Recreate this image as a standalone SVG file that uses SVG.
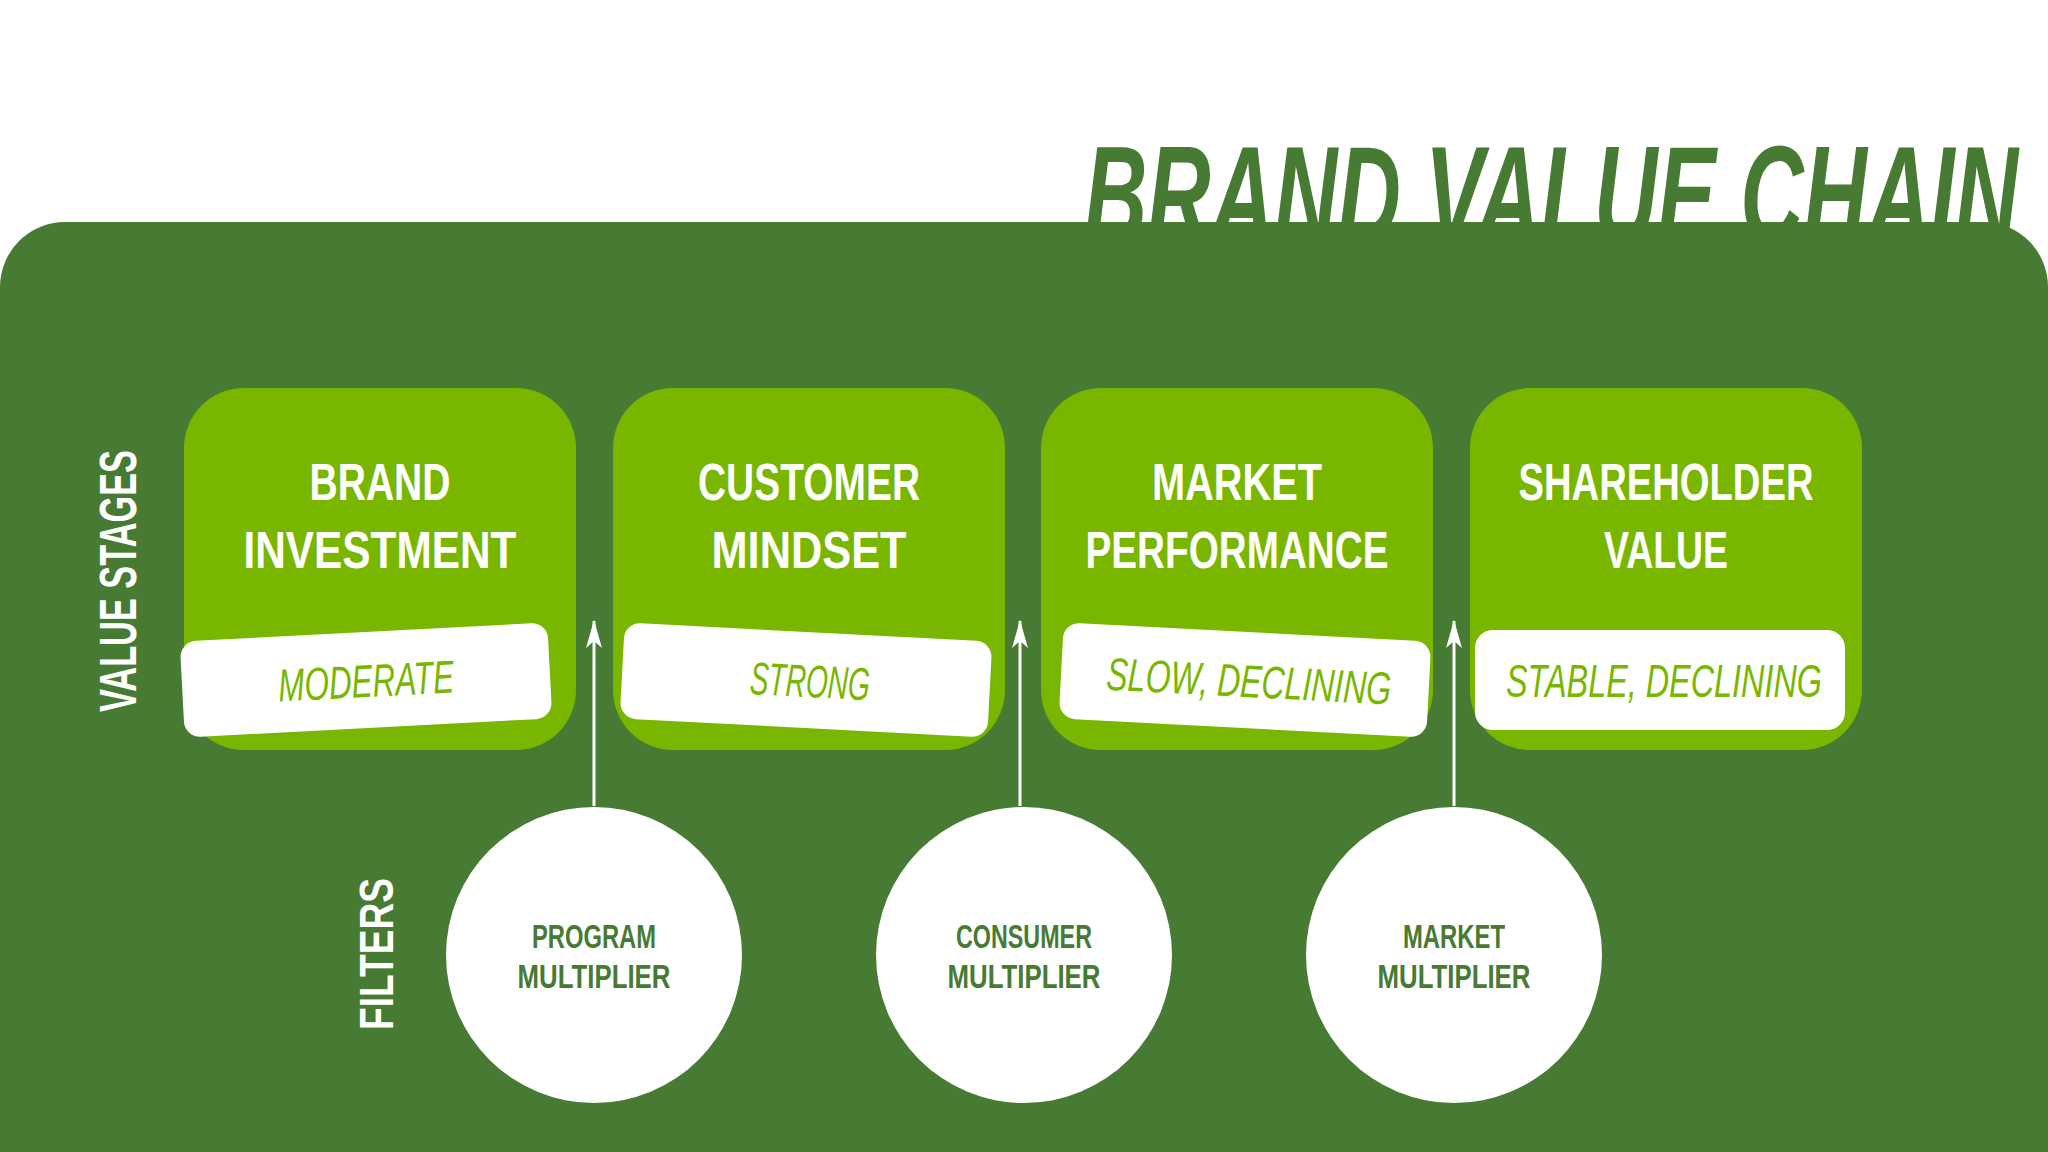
<svg xmlns="http://www.w3.org/2000/svg" width="2048" height="1152" viewBox="0 0 2048 1152">
  <defs>
    <style>
      .title { font-family: "Liberation Sans Narrow", "Liberation Sans", "DejaVu Sans Condensed", sans-serif; font-weight: bold; font-style: italic; fill: #477a33; }
      .stage { fill: #79b600; }
      .head { font-family: "Liberation Sans Narrow", "Liberation Sans", "DejaVu Sans Condensed", sans-serif; font-weight: bold; fill: #ffffff; font-size: 52px; text-anchor: middle; }
      .tag { fill: #ffffff; }
      .tagtext { font-family: "Liberation Sans Narrow", "Liberation Sans", "DejaVu Sans Condensed", sans-serif; font-style: italic; fill: #79b600; font-size: 46px; text-anchor: middle; }
      .filter { fill: #ffffff; }
      .ftext { font-family: "Liberation Sans Narrow", "Liberation Sans", "DejaVu Sans Condensed", sans-serif; font-weight: bold; fill: #477a33; font-size: 33px; text-anchor: middle; }
      .side { font-family: "Liberation Sans Narrow", "Liberation Sans", "DejaVu Sans Condensed", sans-serif; font-weight: bold; fill: #ffffff; text-anchor: middle; }
      .conn { stroke: #ffffff; stroke-width: 3; fill: none; }
    </style>
    <marker id="arrow" viewBox="0 0 30 18" refX="29" refY="9" markerWidth="30" markerHeight="18" markerUnits="userSpaceOnUse" orient="auto">
      <path d="M30,9 L2,1 L9,9 L2,17 Z" fill="#ffffff"/>
    </marker>
  </defs>

  <rect x="0" y="0" width="2048" height="1152" fill="#ffffff"/>

  <g id="title">
    <text class="title" x="2018" y="242" font-size="138" text-anchor="end" textLength="934" lengthAdjust="spacingAndGlyphs">BRAND VALUE CHAIN</text>
  </g>

  <g id="background">
    <rect x="0" y="222" width="2048" height="1000" rx="65" ry="65" fill="#477a33"/>
  </g>

  <g id="label-value-stages">
    <text class="side" transform="translate(136,581) rotate(-90)" font-size="52" textLength="262" lengthAdjust="spacingAndGlyphs">VALUE STAGES</text>
  </g>
  <g id="label-filters">
    <text class="side" transform="translate(393,954) rotate(-90)" font-size="48" textLength="152" lengthAdjust="spacingAndGlyphs">FILTERS</text>
  </g>

  <g id="stage-brand-investment">
    <rect class="stage" x="184" y="388" width="392" height="362" rx="60"/>
    <text class="head" x="380" y="500" textLength="141" lengthAdjust="spacingAndGlyphs">BRAND</text>
    <text class="head" x="380" y="568" textLength="273" lengthAdjust="spacingAndGlyphs">INVESTMENT</text>
    <g transform="translate(366,680) rotate(-3)">
      <rect class="tag" x="-184" y="-48" width="368" height="96" rx="16"/>
      <text class="tagtext" x="0" y="17" textLength="176" lengthAdjust="spacingAndGlyphs">MODERATE</text>
    </g>
  </g>

  <g id="stage-customer-mindset">
    <rect class="stage" x="613" y="388" width="392" height="362" rx="60"/>
    <text class="head" x="809" y="500" textLength="222" lengthAdjust="spacingAndGlyphs">CUSTOMER</text>
    <text class="head" x="809" y="568" textLength="195" lengthAdjust="spacingAndGlyphs">MINDSET</text>
    <g transform="translate(806,680) rotate(3)">
      <rect class="tag" x="-184" y="-48" width="368" height="96" rx="16"/>
      <text class="tagtext" x="4" y="17" textLength="120" lengthAdjust="spacingAndGlyphs">STRONG</text>
    </g>
  </g>

  <g id="stage-market-performance">
    <rect class="stage" x="1041" y="388" width="392" height="362" rx="60"/>
    <text class="head" x="1237" y="500" textLength="170" lengthAdjust="spacingAndGlyphs">MARKET</text>
    <text class="head" x="1237" y="568" textLength="303" lengthAdjust="spacingAndGlyphs">PERFORMANCE</text>
    <g transform="translate(1245,680) rotate(3)">
      <rect class="tag" x="-184" y="-48" width="368" height="96" rx="16"/>
      <text class="tagtext" x="4" y="17" textLength="285" lengthAdjust="spacingAndGlyphs">SLOW, DECLINING</text>
    </g>
  </g>

  <g id="stage-shareholder-value">
    <rect class="stage" x="1470" y="388" width="392" height="362" rx="60"/>
    <text class="head" x="1666" y="500" textLength="295" lengthAdjust="spacingAndGlyphs">SHAREHOLDER</text>
    <text class="head" x="1666" y="568" textLength="124" lengthAdjust="spacingAndGlyphs">VALUE</text>
    <rect class="tag" x="1475" y="630" width="370" height="100" rx="18"/>
    <text class="tagtext" x="1664" y="697" textLength="316" lengthAdjust="spacingAndGlyphs">STABLE, DECLINING</text>
  </g>

  <g id="connectors">
    <line class="conn" x1="594" y1="806" x2="594" y2="621" marker-end="url(#arrow)"/>
    <line class="conn" x1="1020" y1="806" x2="1020" y2="621" marker-end="url(#arrow)"/>
    <line class="conn" x1="1454" y1="806" x2="1454" y2="621" marker-end="url(#arrow)"/>
  </g>

  <g id="filter-program">
    <circle class="filter" cx="594" cy="955" r="148"/>
    <text class="ftext" x="594" y="948" textLength="124" lengthAdjust="spacingAndGlyphs">PROGRAM</text>
    <text class="ftext" x="594" y="988" textLength="153" lengthAdjust="spacingAndGlyphs">MULTIPLIER</text>
  </g>
  <g id="filter-consumer">
    <circle class="filter" cx="1024" cy="955" r="148"/>
    <text class="ftext" x="1024" y="948" textLength="136" lengthAdjust="spacingAndGlyphs">CONSUMER</text>
    <text class="ftext" x="1024" y="988" textLength="153" lengthAdjust="spacingAndGlyphs">MULTIPLIER</text>
  </g>
  <g id="filter-market">
    <circle class="filter" cx="1454" cy="955" r="148"/>
    <text class="ftext" x="1454" y="948" textLength="102" lengthAdjust="spacingAndGlyphs">MARKET</text>
    <text class="ftext" x="1454" y="988" textLength="153" lengthAdjust="spacingAndGlyphs">MULTIPLIER</text>
  </g>
</svg>
